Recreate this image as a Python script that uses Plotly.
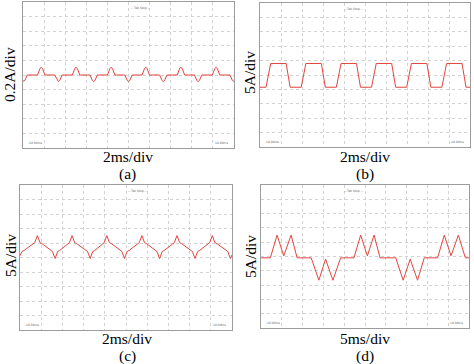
import plotly.graph_objects as go

W, H = 474, 364

# ---------------- data ----------------
# (a) 2 ms/div, 0.2 A/div
a_t = [0.00, 0.18, 0.41, 1.38, 1.61, 1.73, 1.85, 2.08, 3.01, 3.24, 3.36, 3.48, 3.71,
       4.68, 4.91, 5.03, 5.15, 5.38, 6.35, 6.58, 6.70, 6.82, 7.05,
       8.01, 8.24, 8.36, 8.48, 8.71, 9.65, 9.88, 10.00, 10.12, 10.35,
       11.29, 11.52, 11.64, 11.76, 11.99, 12.95, 13.18, 13.30, 13.42, 13.65,
       14.62, 14.85, 14.97, 15.09, 15.32, 16.25, 16.48, 16.60, 16.72, 16.95,
       17.95, 18.18, 18.30, 18.42, 18.65, 19.62, 19.85, 20.00]
a_i = [-0.085, -0.075, 0, 0, 0.09, 0.105, 0.09, 0, 0, -0.075, -0.09, -0.075, 0,
       0, 0.09, 0.105, 0.09, 0, 0, -0.075, -0.09, -0.075, 0,
       0, 0.09, 0.105, 0.09, 0, 0, -0.075, -0.09, -0.075, 0,
       0, 0.09, 0.105, 0.09, 0, 0, -0.075, -0.09, -0.075, 0,
       0, 0.09, 0.105, 0.09, 0, 0, -0.075, -0.09, -0.075, 0,
       0, 0.09, 0.105, 0.09, 0, 0, -0.075, -0.088]

# (b) 2 ms/div, 5 A/div
b_t = [0.00, 0.57, 1.02, 2.49, 2.87, 3.92, 4.37, 5.84, 6.22, 7.27, 7.72, 9.19, 9.57,
       10.62, 11.07, 12.54, 12.92, 13.97, 14.42, 15.89, 16.27, 17.32, 17.77, 19.24,
       19.62, 20.00]
b_i = [-4.25, -4.25, 4.0, 4.0, -4.25, -4.25, 4.0, 4.0, -4.25, -4.25, 4.0, 4.0, -4.25,
       -4.25, 4.0, 4.0, -4.25, -4.25, 4.0, 4.0, -4.25, -4.25, 4.0, 4.0,
       -4.25, -4.25]

# (c) 2 ms/div, 5 A/div
c_t = [0.00, 0.20, 0.39, 1.20, 1.39, 1.64, 1.89, 2.08, 2.87, 3.06, 3.31,
       3.56, 3.75, 4.47, 4.66, 4.91, 5.16, 5.35, 6.18, 6.37, 6.62,
       6.87, 7.06, 7.75, 7.94, 8.19, 8.44, 8.63, 9.42, 9.61, 9.86,
       10.11, 10.30, 11.06, 11.25, 11.50, 11.75, 11.94, 12.73, 12.92, 13.17,
       13.42, 13.61, 14.37, 14.56, 14.81, 15.06, 15.25, 16.07, 16.26, 16.51,
       16.76, 16.95, 17.70, 17.89, 18.14, 18.39, 18.58, 19.41, 19.60, 19.85, 20.00]
c_i = [0.6, 2.09, 2.44, 4.77, 5.12, 7.56, 5.12, 4.77, 2.44, 2.09, -0.35,
       2.09, 2.44, 4.77, 5.12, 7.56, 5.12, 4.77, 2.44, 2.09, -0.35,
       2.09, 2.44, 4.77, 5.12, 7.56, 5.12, 4.77, 2.44, 2.09, -0.35,
       2.09, 2.44, 4.77, 5.12, 7.56, 5.12, 4.77, 2.44, 2.09, -0.35,
       2.09, 2.44, 4.77, 5.12, 7.56, 5.12, 4.77, 2.44, 2.09, -0.35,
       2.09, 2.44, 4.77, 5.12, 7.56, 5.12, 4.77, 2.44, 2.09, -0.35, 0.9]

# (d) 5 ms/div, 5 A/div
d_t = [0.00, 2.25, 3.86, 5.47, 7.24, 8.68, 12.06, 13.91, 15.52, 17.29, 19.14,
       22.35, 23.96, 25.57, 27.18, 28.62, 32.40, 34.17, 35.86, 37.63, 39.24,
       42.45, 44.06, 45.67, 47.44, 49.13, 50.00]
d_i = [-0.47, -0.47, 7.48, 0.23, 7.48, -0.47, -0.47, -8.3, -0.93, -8.3, -0.47,
       -0.47, 7.48, 0.23, 7.48, -0.47, -0.47, -8.3, -0.93, -8.3, -0.47,
       -0.47, 7.48, 0.23, 7.48, -0.47, -0.47]

# channel markers (side, level)
a_marks = [("l", -0.02), ("r", 0.0)]
b_marks = [("l", -0.58), ("r", 4.0)]
c_marks = [("l", -0.81), ("r", 2.3)]
d_marks = [("r", -5.96)]

y_labels = ["0.2A/div", "5A/div", "5A/div", "5A/div"]
x_labels = ["2ms/div", "2ms/div", "2ms/div", "5ms/div"]
tags = ["(a)", "(b)", "(c)", "(d)"]

# ---------------- layout helpers ----------------
# pixel boxes: left, top, right, bottom
boxes = [(23, 2, 234, 148), (260, 3, 470, 147), (20, 185, 232, 330), (261, 185, 469, 328)]
xranges = [(0, 20, 2), (0, 20, 2), (0, 20, 2), (0, 50, 5)]
yranges = [(-1, 1, 0.2), (-25, 25, 5), (-25, 25, 5), (-25, 25, 5)]
ylab_pos = [(10, 75), (250, 73), (10, 256), (250, 257)]
xlab_pos = [(128, 156.5), (365, 156.5), (127, 338.5), (365, 338.5)]
tag_pos = [(128, 173.5), (365, 173.5), (127, 355.5), (365, 355.5)]

series = [(a_t, a_i, a_marks), (b_t, b_i, b_marks), (c_t, c_i, c_marks), (d_t, d_i, d_marks)]

RED = "#e2453f"
FONT = "Liberation Serif"
FS = 15.5

fig = go.Figure()
layout = dict(width=W, height=H, margin=dict(l=0, r=0, t=0, b=0),
              paper_bgcolor="white", plot_bgcolor="white", showlegend=False)
annotations = []

for k, ((l, t, r, b), (x0, x1, dx), (y0, y1, dy), (tt, ii, marks)) in enumerate(
        zip(boxes, xranges, yranges, series)):
    sfx = "" if k == 0 else str(k + 1)
    xa, ya = "x" + sfx, "y" + sfx
    common = dict(showticklabels=False, ticks="", zeroline=False,
                  showline=True, mirror=True, linecolor="#9c9c9c", linewidth=1,
                  showgrid=True, gridcolor="#d2d2d2", gridwidth=1, griddash="dot",
                  fixedrange=True)
    layout["xaxis" + sfx] = dict(common, domain=[l / W, r / W], range=[x0, x1],
                                 tick0=x0, dtick=dx, anchor=ya)
    layout["yaxis" + sfx] = dict(common, domain=[1 - b / H, 1 - t / H], range=[y0, y1],
                                 tick0=y0, dtick=dy, anchor=xa)
    fig.add_trace(go.Scatter(x=tt, y=ii, mode="lines", line=dict(color=RED, width=1),
                             xaxis=xa, yaxis=ya, hoverinfo="skip"))
    span = x1 - x0
    for side, lvl in marks:
        fig.add_trace(go.Scatter(
            x=[x0 - 0.012 * span if side == "l" else x1 + 0.012 * span], y=[lvl],
            mode="markers", cliponaxis=False,
            marker=dict(symbol="triangle-right" if side == "l" else "triangle-left",
                        size=4, color=RED),
            xaxis=xa, yaxis=ya, hoverinfo="skip"))
    # tiny scope read-outs
    annotations.append(dict(x=(l + r) / 2 / W, y=1 - (t + 2) / H, xref="paper", yref="paper",
                            text="-- Tek Stop --", showarrow=False, yanchor="top",
                            font=dict(size=3, color="#666666", family="DejaVu Sans")))
    annotations.append(dict(x=(l + 3) / W, y=1 - (b - 1) / H, xref="paper", yref="paper",
                            text="-10.00ms", showarrow=False, xanchor="left", yanchor="bottom",
                            font=dict(size=3, color="#666666", family="DejaVu Sans")))
    annotations.append(dict(x=(r - 3) / W, y=1 - (b - 1) / H, xref="paper", yref="paper",
                            text="10.00ms", showarrow=False, xanchor="right", yanchor="bottom",
                            font=dict(size=3, color="#666666", family="DejaVu Sans")))
    # labels
    px, py = ylab_pos[k]
    annotations.append(dict(x=px / W, y=1 - py / H, xref="paper", yref="paper",
                            text=y_labels[k], showarrow=False, textangle=-90,
                            xanchor="center", yanchor="middle",
                            font=dict(size=FS, color="black", family=FONT)))
    px, py = xlab_pos[k]
    annotations.append(dict(x=px / W, y=1 - py / H, xref="paper", yref="paper",
                            text=x_labels[k], showarrow=False,
                            xanchor="center", yanchor="middle",
                            font=dict(size=FS, color="black", family=FONT)))
    px, py = tag_pos[k]
    annotations.append(dict(x=px / W, y=1 - py / H, xref="paper", yref="paper",
                            text=tags[k], showarrow=False,
                            xanchor="center", yanchor="middle",
                            font=dict(size=FS, color="black", family=FONT)))

layout["annotations"] = annotations
fig.update_layout(**layout)
fig.write_html("out.html", config={"displayModeBar": False, "staticPlot": True},
               post_script="document.body.style.margin='0px';document.body.style.overflow='hidden';")
